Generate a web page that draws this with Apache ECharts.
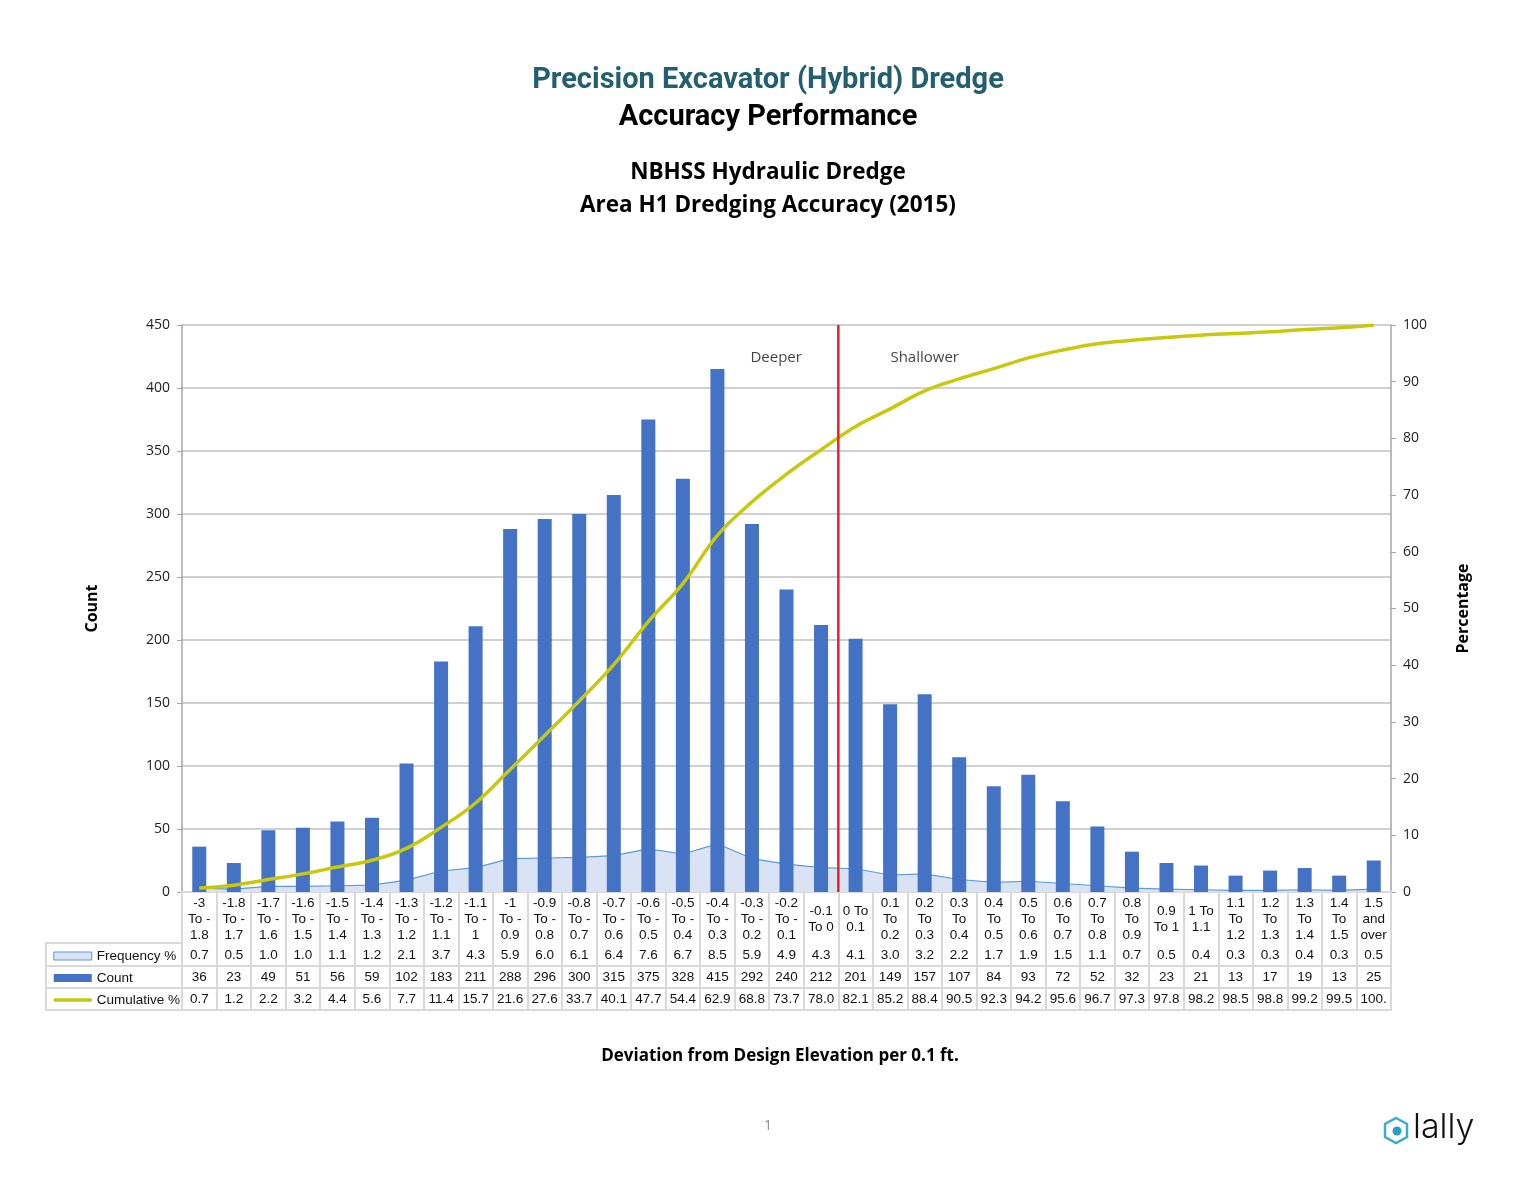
<!DOCTYPE html>
<html>
<head>
<meta charset="utf-8">
<title>Accuracy Performance</title>
<script src="https://cdn.jsdelivr.net/npm/echarts@6/dist/echarts.min.js"></script>
<style>
  html, body { margin: 0; padding: 0; background: #fff; }
  #chart { width: 1536px; height: 1187px; }
</style>
</head>
<body>
<div id="chart"></div>
<script>
// bins of deviation from design elevation (0.1 ft)
const categories = [
  '-3\nTo -\n1.8', '-1.8\nTo -\n1.7', '-1.7\nTo -\n1.6', '-1.6\nTo -\n1.5', '-1.5\nTo -\n1.4',
  '-1.4\nTo -\n1.3', '-1.3\nTo -\n1.2', '-1.2\nTo -\n1.1', '-1.1\nTo -\n1', '-1\nTo -\n0.9',
  '-0.9\nTo -\n0.8', '-0.8\nTo -\n0.7', '-0.7\nTo -\n0.6', '-0.6\nTo -\n0.5', '-0.5\nTo -\n0.4',
  '-0.4\nTo -\n0.3', '-0.3\nTo -\n0.2', '-0.2\nTo -\n0.1', '-0.1\nTo 0', '0 To\n0.1',
  '0.1\nTo\n0.2', '0.2\nTo\n0.3', '0.3\nTo\n0.4', '0.4\nTo\n0.5', '0.5\nTo\n0.6',
  '0.6\nTo\n0.7', '0.7\nTo\n0.8', '0.8\nTo\n0.9', '0.9\nTo 1', '1 To\n1.1',
  '1.1\nTo\n1.2', '1.2\nTo\n1.3', '1.3\nTo\n1.4', '1.4\nTo\n1.5', '1.5\nand\nover'
]
const freqPct = [0.7, 0.5, 1.0, 1.0, 1.1, 1.2, 2.1, 3.7, 4.3, 5.9, 6.0, 6.1, 6.4, 7.6, 6.7, 8.5, 5.9, 4.9, 4.3, 4.1,
  3.0, 3.2, 2.2, 1.7, 1.9, 1.5, 1.1, 0.7, 0.5, 0.4, 0.3, 0.3, 0.4, 0.3, 0.5]
const counts = [36, 23, 49, 51, 56, 59, 102, 183, 211, 288, 296, 300, 315, 375, 328, 415, 292, 240, 212, 201,
  149, 157, 107, 84, 93, 72, 52, 32, 23, 21, 13, 17, 19, 13, 25]
const cumPct = [0.7, 1.2, 2.2, 3.2, 4.4, 5.6, 7.7, 11.4, 15.7, 21.6, 27.6, 33.7, 40.1, 47.7, 54.4, 62.9, 68.8, 73.7, 78.0, 82.1,
  85.2, 88.4, 90.5, 92.3, 94.2, 95.6, 96.7, 97.3, 97.8, 98.2, 98.5, 98.8, 99.2, 99.5, 100]
const countTicks = [0, 50, 100, 150, 200, 250, 300, 350, 400, 450]
const pctTicks = [0, 10, 20, 30, 40, 50, 60, 70, 80, 90, 100]
// zero line between "-0.1 To 0" and "0 To 0.1" (boundary index on 0..35 scale)
const zeroBoundary = [[19, 0], [19, 450]]
const notes = [[17.2, 424, 'Deeper'], [21.5, 424, 'Shallower']]

const tableGrey = '#d9d9d9'
const axisGrey = '#a6a6a6'
const cumColor = '#c8c80c'
const cellFont = { fontFamily: 'Liberation Sans', fontSize: 13.5, color: '#111' }

// one table row = one extra category axis hung below the plot
function rowAxis(offset, values, fmt, margin) {
  return {
    type: 'category', gridIndex: 0, position: 'bottom', offset: offset,
    data: categories,
    axisLine: { show: true, lineStyle: { color: tableGrey, width: 2 } },
    axisTick: { show: false },
    splitLine: { show: false },
    axisLabel: values ? Object.assign({
      interval: 0, margin: margin, verticalAlign: 'middle',
      formatter: (v, i) => fmt(values[i])
    }, cellFont) : { show: false }
  }
}

const chart = echarts.init(document.getElementById('chart'))

const option = {
  backgroundColor: '#fff',
  animation: false,
  title: [
    { text: 'Precision Excavator (Hybrid) Dredge', left: 'center', top: 66, padding: 0,
      textStyle: { fontFamily: 'Roboto', fontWeight: 'bold', fontSize: 29, color: '#245f6f' } },
    { text: 'Accuracy Performance', left: 'center', top: 103, padding: 0,
      textStyle: { fontFamily: 'Roboto', fontWeight: 'bold', fontSize: 29, color: '#000' } },
    { text: 'NBHSS Hydraulic Dredge', left: 'center', top: 161, padding: 0,
      textStyle: { fontFamily: 'Open Sans', fontWeight: 'bold', fontSize: 22.5, color: '#000' } },
    { text: 'Area H1 Dredging Accuracy (2015)', left: 'center', top: 194, padding: 0,
      textStyle: { fontFamily: 'Open Sans', fontWeight: 'bold', fontSize: 22.5, color: '#000' } },
    { text: 'Deviation from Design Elevation per 0.1 ft.', left: 780, textAlign: 'center', top: 1048, padding: 0,
      textStyle: { fontFamily: 'Open Sans', fontWeight: 'bold', fontSize: 17, color: '#000' } }
  ],
  legend: {
    orient: 'vertical', left: 52, top: 949, padding: 0,
    itemWidth: 38, itemHeight: 8, itemGap: 8,
    textStyle: { fontFamily: 'Liberation Sans', fontSize: 13.5, color: '#111', lineHeight: 14 },
    selectedMode: false,
    data: [
      { name: 'Frequency %', icon: 'rect', itemStyle: { color: '#dae3f3', borderColor: '#5b9bd5', borderWidth: 1 } },
      { name: 'Count', icon: 'rect', itemStyle: { color: '#4472c4' } },
      { name: 'Cumulative %', itemStyle: { opacity: 0 }, lineStyle: { color: cumColor, width: 3.5 } }
    ]
  },
  grid: { left: 182, right: 145, top: 325, bottom: 295, containLabel: false },
  xAxis: [
    {
      type: 'category', gridIndex: 0, position: 'bottom',
      data: categories,
      axisLine: { show: true, lineStyle: { color: axisGrey, width: 1.5 } },
      axisTick: { show: true, interval: 0, length: 118, lineStyle: { color: tableGrey, width: 2 } },
      axisLabel: Object.assign({ interval: 0, margin: 27, verticalAlign: 'middle', lineHeight: 16 }, cellFont),
      splitLine: { show: false }
    },
    rowAxis(51, freqPct, v => v.toFixed(1), 12.5),
    rowAxis(74, counts, v => String(v), 11.5),
    rowAxis(96, cumPct, v => v.toFixed(1).slice(0, 4), 11.5),
    rowAxis(118, null),
    { type: 'value', gridIndex: 0, min: 0, max: categories.length, show: false }
  ],
  yAxis: [
    {
      type: 'value', min: countTicks[0], max: countTicks[countTicks.length - 1], interval: 50,
      name: 'Count', nameLocation: 'middle', nameGap: 82, nameRotate: 90,
      nameTextStyle: { fontFamily: 'Open Sans', fontWeight: 'bold', fontSize: 16, color: '#000' },
      axisLine: { show: true, lineStyle: { color: axisGrey, width: 1.5 } },
      axisTick: { show: true, length: 5, lineStyle: { color: axisGrey } },
      axisLabel: { margin: 12, fontFamily: 'Open Sans', fontSize: 14, color: '#222' },
      splitLine: { show: true, lineStyle: { color: '#c0c0c0', width: 1.5 } }
    },
    {
      type: 'value', min: pctTicks[0], max: pctTicks[pctTicks.length - 1], interval: 10, position: 'right',
      name: 'Percentage', nameLocation: 'middle', nameGap: 64, nameRotate: 90,
      nameTextStyle: { fontFamily: 'Open Sans', fontWeight: 'bold', fontSize: 16, color: '#000' },
      axisLine: { show: true, lineStyle: { color: axisGrey, width: 1.5 } },
      axisTick: { show: true, length: 5, lineStyle: { color: axisGrey } },
      axisLabel: { margin: 12, fontFamily: 'Open Sans', fontSize: 14, color: '#222' },
      splitLine: { show: false }
    }
  ],
  series: [
    {
      name: 'Frequency %', type: 'line', xAxisIndex: 0, yAxisIndex: 1,
      data: freqPct, symbol: 'none', z: 1,
      lineStyle: { color: '#5b9bd5', width: 1.2 },
      areaStyle: { color: '#dae3f3', opacity: 1 }
    },
    {
      name: 'Count', type: 'bar', xAxisIndex: 0, yAxisIndex: 0,
      data: counts, barWidth: 14, z: 2,
      itemStyle: { color: '#4472c4' }
    },
    {
      name: 'Cumulative %', type: 'line', xAxisIndex: 0, yAxisIndex: 1,
      data: cumPct, symbol: 'none', smooth: 0.4, z: 4,
      itemStyle: { color: cumColor },
      lineStyle: { color: cumColor, width: 3.5 }
    },
    {
      name: 'zero', type: 'line', xAxisIndex: 5, yAxisIndex: 0,
      data: zeroBoundary, symbol: 'none', z: 5,
      lineStyle: { color: '#e8202c', width: 2.5 }
    },
    {
      name: 'notes', type: 'scatter', xAxisIndex: 5, yAxisIndex: 0,
      data: notes, symbolSize: 0, z: 5,
      label: {
        show: true, position: 'inside', formatter: p => p.data[2],
        fontFamily: 'Open Sans', fontSize: 15, color: '#111'
      }
    }
  ],
  graphic: [
    // left legend column of the data table
    { type: 'rect', shape: { x: 46, y: 943, width: 136, height: 67 },
      style: { fill: 'none', stroke: tableGrey, lineWidth: 2 }, z: 0 },
    { type: 'line', shape: { x1: 46, y1: 966, x2: 182, y2: 966 }, style: { stroke: tableGrey, lineWidth: 2 } },
    { type: 'line', shape: { x1: 46, y1: 988, x2: 182, y2: 988 }, style: { stroke: tableGrey, lineWidth: 2 } },
    // page number
    { type: 'text', left: 764, top: 1119,
      style: { text: '1', fontFamily: 'Open Sans', fontSize: 14, fill: '#8c8c8c' } },
    // logo
    { type: 'polygon', shape: { points: [[1396, 1118], [1407, 1124], [1407, 1137], [1396, 1143], [1385, 1137], [1385, 1124]] },
      style: { fill: '#fff', stroke: '#3aaec9', lineWidth: 2.5 } },
    { type: 'circle', shape: { cx: 1397, cy: 1131, r: 4.5 }, style: { fill: '#2a9fc0' } },
    { type: 'text', left: 1413, top: 1111,
      style: { text: 'lally', fontFamily: 'Inter', fontWeight: 300, fontSize: 34, fill: '#111' } }
  ]
}

chart.setOption(option)
</script>
</body>
</html>
